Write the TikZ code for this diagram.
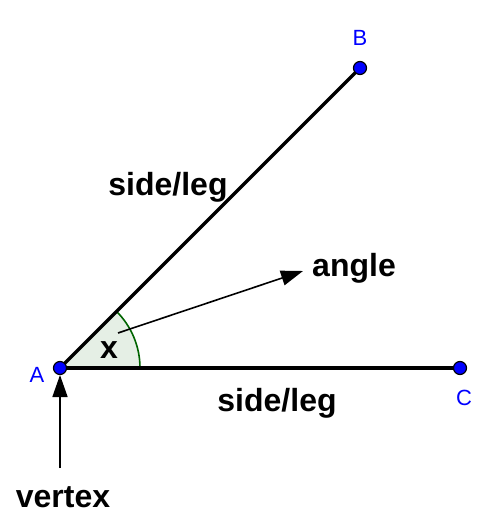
\documentclass[tikz,border=0pt]{standalone}
\usepackage{fontspec}
\setmainfont{Liberation Sans}
\usetikzlibrary{arrows.meta}
\definecolor{ptblue}{RGB}{0,0,255}
\definecolor{arcgreen}{RGB}{0,100,0}
\definecolor{anglefill}{RGB}{229,239,229}
\tikzset{
  big/.style={font=\fontsize{32}{32}\selectfont\bfseries, inner sep=0pt, anchor=base},
  ptlabel/.style={font=\fontsize{22}{22}\selectfont, text=ptblue, inner sep=0pt, anchor=base},
  seg/.style={line width=3.4pt, black},
  pointer/.style={line width=1.6pt, -{Triangle[length=22pt,width=15pt]}},
  dot/.style={circle, fill=ptblue, draw=black, line width=1.2pt, minimum size=13pt, inner sep=0pt}
}
\begin{document}
\begin{tikzpicture}[x=1pt,y=-1pt]
\useasboundingbox (0,0) rectangle (485,526);
\coordinate (A) at (60,368);
\coordinate (B) at (360,68);
\coordinate (C) at (460,368);
% angle sector
\fill[anglefill] (A) -- (140,368) arc[start angle=0,end angle=-45,radius=80] -- cycle;
\draw[arcgreen, line width=1.6pt] (140,368) arc[start angle=0,end angle=-45,radius=80];
% sides
\draw[seg] (A) -- (B);
\draw[seg] (A) -- (C);
% labels
\node[big] (xl) at (109,358) {x};
\node[big] (sl1) at (168,196) {side/leg};
\node[big] (sl2) at (277,411) {side/leg};
\node[big] (ang) at (354,276) {angle};
\node[big] (vtx) at (63,507) {vertex};
% arrows
\coordinate (angS) at (118,333);
\coordinate (angE) at (303,271);
\draw[pointer] (angS) -- (angE);
\coordinate (vS) at (60,468);
\coordinate (vE) at (60,375);
\draw[pointer] (vS) -- (vE);
% points
\node[dot] (pA) at (A) {};
\node[dot] (pB) at (B) {};
\node[dot] (pC) at (C) {};
\node[ptlabel] (lA) at (37,382) {A};
\node[ptlabel] (lB) at (360,46) {B};
\node[ptlabel] (lC) at (464,405) {C};
\end{tikzpicture}
\end{document}
